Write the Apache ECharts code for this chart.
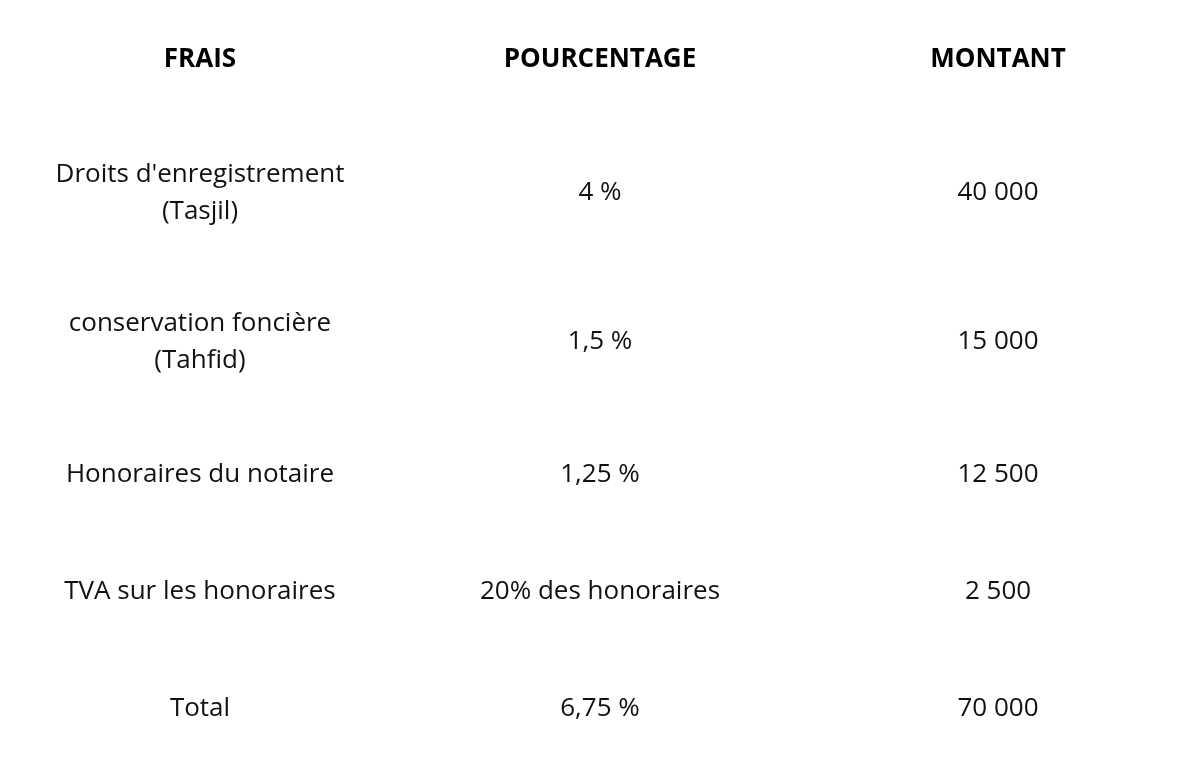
<!DOCTYPE html>
<html>
<head>
<meta charset="utf-8">
<script src="https://cdn.jsdelivr.net/npm/echarts@6/dist/echarts.min.js"></script>
<style>html,body{margin:0;padding:0;background:#fff}#chart{width:1200px;height:769px}</style>
</head>
<body>
<div id="chart"></div>
<script>
// données du tableau
const headers = ['FRAIS', 'POURCENTAGE', 'MONTANT']
const frais = ["Droits d'enregistrement\n(Tasjil)", 'conservation foncière\n(Tahfid)', 'Honoraires du notaire', 'TVA sur les honoraires', 'Total']
const pourcentages = ['4 %', '1,5 %', '1,25 %', '20% des honoraires', '6,75 %']
const montants = ['40 000', '15 000', '12 500', '2 500', '70 000']

// mise en page
const colX = [200, 600, 998]
const headerY = 60
const rowY = [193, 342, 475, 592, 709]

let myChart = echarts.init(document.getElementById('chart'))
let elements = []

//en-têtes
headers.forEach((h, i) => {
    elements.push({
        type: 'text', x: colX[i], y: headerY,
        style: { text: h, fill: '#000', font: 'bold 26px "Open Sans"', align: 'center', verticalAlign: 'middle' }
    })
})

//lignes
const cols = [frais, pourcentages, montants]
rowY.forEach((y, r) => {
    cols.forEach((col, c) => {
        elements.push({
            type: 'text', x: colX[c], y: y,
            style: { text: col[r], fill: '#111', font: '26px "Open Sans"', lineHeight: 37, align: 'center', verticalAlign: 'middle' }
        })
    })
})

myChart.setOption({ backgroundColor: '#fff', graphic: { elements: elements } })
</script>
</body>
</html>
